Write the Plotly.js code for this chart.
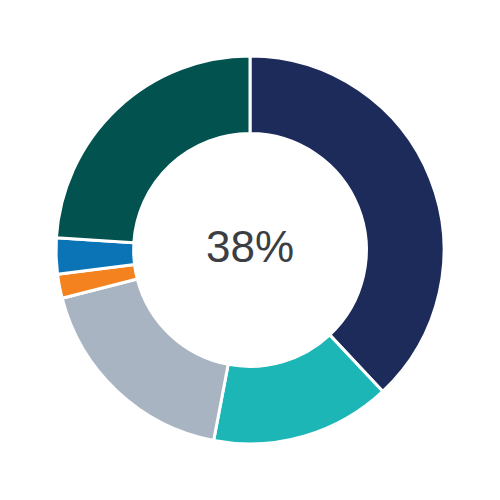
<!DOCTYPE html>
<html>
<head>
<meta charset="utf-8">
<script src="https://cdn.plot.ly/plotly-3.0.1.min.js"></script>
<style>
  html, body { margin: 0; padding: 0; background: #ffffff; }
  #myDiv { width: 500px; height: 500px; }
</style>
</head>
<body>
<div id="myDiv"></div>
<script>
var labels = ['A', 'B', 'C', 'D', 'E', 'F'];
var values = [38, 15, 18, 2, 3, 24];
var colors = ['#1c2b5a', '#1db6b6', '#a9b4c2', '#f4821f', '#0a74b6', '#02534f'];
var centerText = '38%';

var trace1 = {
  type: 'pie',
  labels: labels,
  values: values,
  hole: 0.6,
  sort: false,
  direction: 'clockwise',
  rotation: 0,
  textinfo: 'none',
  hoverinfo: 'label+percent',
  marker: {
    colors: colors,
    line: {color: '#ffffff', width: 3},
  },
};

var layout = {
  width: 500,
  height: 500,
  showlegend: false,
  margin: {l: 56, r: 56, t: 56, b: 56},
  paper_bgcolor: '#ffffff',
  annotations: [{
    text: centerText,
    x: 0.5,
    y: 0.51,
    xref: 'paper',
    yref: 'paper',
    showarrow: false,
    font: {family: 'Liberation Sans, Arial, sans-serif', size: 44, color: '#3b3f45'},
  }],
};

Plotly.newPlot('myDiv', [trace1], layout, {displayModeBar: false, staticPlot: true});
</script>
</body>
</html>
